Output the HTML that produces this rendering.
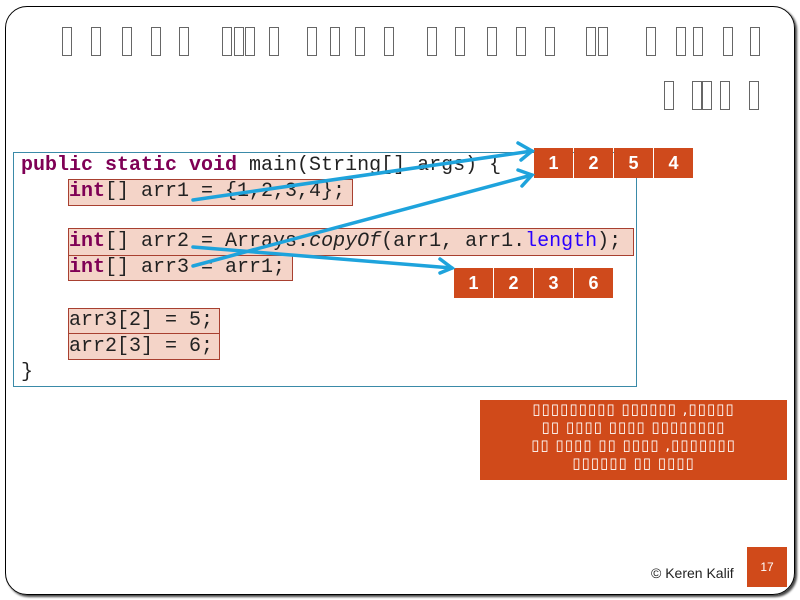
<!DOCTYPE html>
<html><head><meta charset="utf-8"><style>
body{margin:0;width:800px;height:600px;background:#fff;position:relative;overflow:hidden;font-family:"Liberation Sans",sans-serif}
.abs{position:absolute}
.slide{left:5px;top:6px;width:790px;height:589px;border:1px solid #000;border-radius:22px;box-shadow:2px 2px 2px #444;box-sizing:border-box}
.b{position:absolute;width:8px;height:27px;border:1px solid #666;font-size:1px;color:transparent;overflow:hidden;top:27px}
.b2{top:81px}
.code{left:13px;top:152px;width:624px;height:235px;border:1px solid #3a8aa8;box-sizing:border-box}
.ln{position:absolute;font-family:"Liberation Mono",monospace;font-size:20px;white-space:pre;color:#222;line-height:26px}
.k{color:#7f0055;font-weight:bold}
.pk{position:absolute;background:#f4d4c8;border:1px solid #a84030;box-sizing:border-box}
.arr{position:absolute;display:flex;height:30px}
.arr div{width:39px;margin-right:1px;background:#cf4a1c;color:#fff;font-weight:bold;font-size:18px;text-align:center;line-height:30px}
.ob{left:480px;top:400px;width:307px;height:80px;background:#d04a1a;color:#fff;font-family:"DejaVu Sans",sans-serif;font-size:15px;text-align:center;line-height:18px;box-sizing:border-box;letter-spacing:1px;overflow:hidden}
</style></head><body>
<div class="abs slide"></div>
<div class="abs code"></div>
<div class="pk" style="left:68px;top:179px;width:285px;height:27px"></div>
<div class="pk" style="left:68px;top:228px;width:566px;height:28px"></div>
<div class="pk" style="left:68px;top:255px;width:225px;height:26px"></div>
<div class="pk" style="left:68px;top:308px;width:152px;height:26px"></div>
<div class="pk" style="left:68px;top:333px;width:152px;height:27px"></div>
<div class="ln" style="left:21px;top:153px"><span class="k">public static void</span> main(String[] args) {</div>
<div class="ln" style="left:69px;top:179px"><span class="k">int</span>[] arr1 = {1,2,3,4};</div>
<div class="ln" style="left:69px;top:229px"><span class="k">int</span>[] arr2 = Arrays.<i>copyOf</i>(arr1, arr1.<span style="color:#2a00ff">length</span>);</div>
<div class="ln" style="left:69px;top:255px"><span class="k">int</span>[] arr3 = arr1;</div>
<div class="ln" style="left:69px;top:308px">arr3[2] = 5;</div>
<div class="ln" style="left:69px;top:334px">arr2[3] = 6;</div>
<div class="ln" style="left:21px;top:360px">}</div>
<div class="arr" style="left:534px;top:148px"><div>1</div><div>2</div><div>5</div><div>4</div></div>
<div class="arr" style="left:454px;top:268px"><div>1</div><div>2</div><div>3</div><div>6</div></div>
<svg class="abs" style="left:0;top:0" width="800" height="600">
<g stroke="#1ea3dc" stroke-width="3.5" fill="none" stroke-linecap="round">
<line x1="193" y1="200" x2="532" y2="151"/>
<polyline points="518,143 532,151 521,160"/>
<line x1="193" y1="266" x2="532" y2="175"/>
<polyline points="518,170 532,175 522,186"/>
<line x1="193" y1="247" x2="452" y2="268"/>
<polyline points="440,259 452,268 440,273"/>
</g></svg>
<div class="abs ob">▯▯▯▯▯▯▯▯▯ ▯▯▯▯▯▯ ,▯▯▯▯▯<br>▯▯ ▯▯▯▯ ▯▯▯▯ ▯▯▯▯▯▯▯▯<br>▯▯ ▯▯▯▯ ▯▯ ▯▯▯▯ ,▯▯▯▯▯▯▯<br>▯▯▯▯▯▯ ▯▯ ▯▯▯▯</div>
<div class="abs" style="left:651px;top:565px;font-size:14px;color:#222">© Keren Kalif</div>
<div class="abs" style="left:747px;top:547px;width:40px;height:40px;background:#d04a1a;color:#fff;font-size:12px;text-align:center;line-height:40px">17</div>
<div class="b" style="left:62px">ת</div><div class="b" style="left:91px">ר</div><div class="b" style="left:122px">ש</div><div class="b" style="left:151px">י</div><div class="b" style="left:179px">ם</div>
<div class="b" style="left:222px">ה</div><div class="b" style="left:234px">ע</div><div class="b" style="left:245px">ת</div><div class="b" style="left:269px">ק</div>
<div class="b" style="left:307px">מ</div><div class="b" style="left:330px">ע</div><div class="b" style="left:355px">ר</div><div class="b" style="left:384px">ך</div>
<div class="b" style="left:427px">ה</div><div class="b" style="left:455px">פ</div><div class="b" style="left:487px">נ</div><div class="b" style="left:516px">י</div><div class="b" style="left:545px">ה</div>
<div class="b" style="left:586px">ל</div><div class="b" style="left:598px">מ</div>
<div class="b" style="left:646px">ע</div><div class="b" style="left:676px">ר</div><div class="b" style="left:693px">ך</div><div class="b" style="left:723px">ח</div><div class="b" style="left:750px">ד</div>
<div class="b b2" style="left:664px">ש</div><div class="b b2" style="left:692px">נ</div><div class="b b2" style="left:702px">י</div><div class="b b2" style="left:720px">ה</div><div class="b b2" style="left:749px">ם</div>
</body></html>
